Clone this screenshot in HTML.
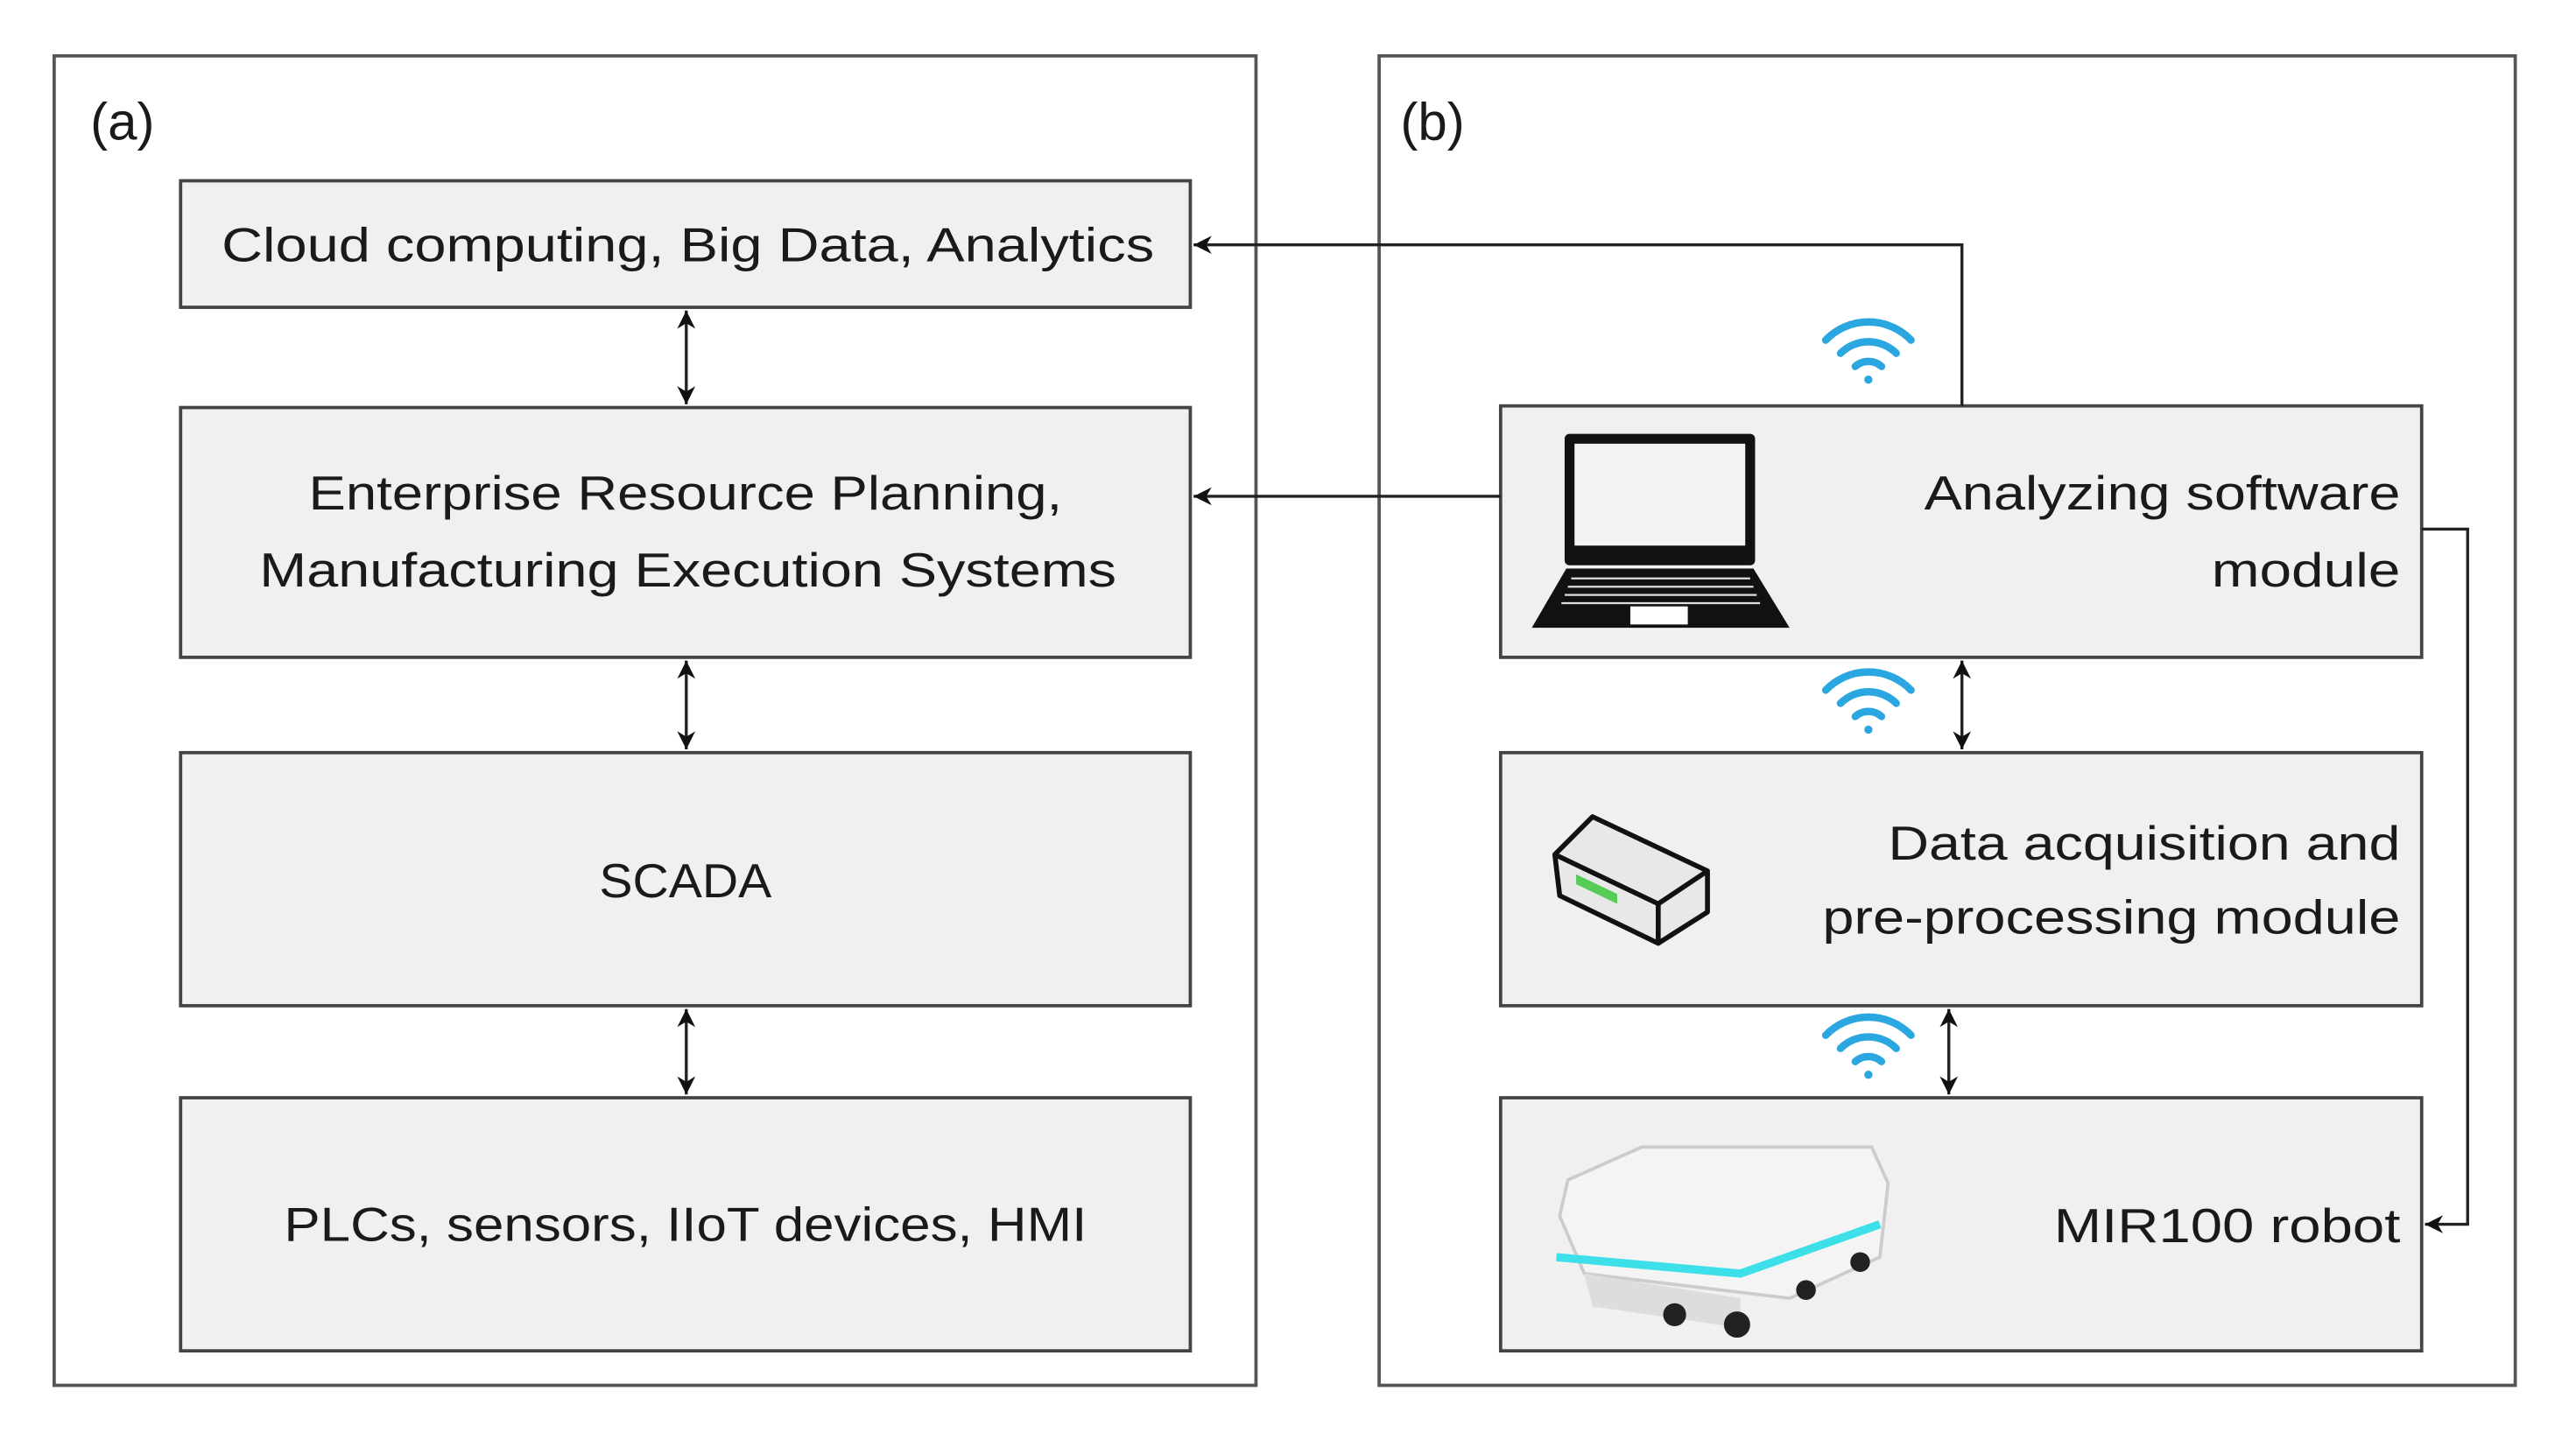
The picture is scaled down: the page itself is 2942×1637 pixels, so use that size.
<!DOCTYPE html>
<html><head><meta charset="utf-8"><style>
html,body{margin:0;padding:0;background:#fff;width:2942px;height:1637px;overflow:hidden}
svg{display:block}
text{font-family:"Liberation Sans",sans-serif;fill:#1a1a1a;font-size:29px}
</style></head><body>
<svg width="2942" height="1637" viewBox="0 0 1569 872" preserveAspectRatio="none" xmlns="http://www.w3.org/2000/svg">
<defs>
<marker id="ah" viewBox="0 0 10 10" refX="10" refY="5" markerWidth="13" markerHeight="11" markerUnits="userSpaceOnUse" orient="auto-start-reverse">
<path d="M0,0 L10,5 L0,10 L3,5 z" fill="#111"/></marker>
<g id="wifi" fill="none" stroke="#2aa6e0" stroke-width="4.5" stroke-linecap="round">
<path d="M-26,-8 A36,36 0 0 1 26,-8"/><path d="M-17,0 A24,24 0 0 1 17,0"/><path d="M-8,8 A12,12 0 0 1 8,8"/>
<circle cx="0" cy="16" r="2.5" fill="#2aa6e0" stroke="none"/></g>
</defs>
<g fill="none" stroke="#555" stroke-width="2">
<rect x="33" y="34" width="732" height="809"/>
<rect x="840" y="34" width="692" height="809"/>
</g>
<text x="55" y="85" style="font-size:32px">(a)</text>
<text x="853" y="85" style="font-size:32px">(b)</text>
<g fill="#f0f0f0" stroke="#444" stroke-width="2">
<rect x="110" y="110" width="615" height="77"/>
<rect x="110" y="248" width="615" height="152"/>
<rect x="110" y="458" width="615" height="154"/>
<rect x="110" y="668" width="615" height="154"/>
<rect x="914" y="247" width="561" height="153"/>
<rect x="914" y="458" width="561" height="154"/>
<rect x="914" y="668" width="561" height="154"/>
</g>
<text x="135" y="159" textLength="568" lengthAdjust="spacingAndGlyphs">Cloud computing, Big Data, Analytics</text>
<text x="188" y="310" textLength="459" lengthAdjust="spacingAndGlyphs">Enterprise Resource Planning,</text>
<text x="158" y="357" textLength="522" lengthAdjust="spacingAndGlyphs">Manufacturing Execution Systems</text>
<text x="365" y="546" textLength="105" lengthAdjust="spacingAndGlyphs">SCADA</text>
<text x="173" y="755" textLength="489" lengthAdjust="spacingAndGlyphs">PLCs, sensors, IIoT devices, HMI</text>
<text x="1172" y="310" textLength="290" lengthAdjust="spacingAndGlyphs">Analyzing software</text>
<text x="1347" y="357" textLength="115" lengthAdjust="spacingAndGlyphs">module</text>
<text x="1150" y="523" textLength="312" lengthAdjust="spacingAndGlyphs">Data acquisition and</text>
<text x="1110" y="568" textLength="352" lengthAdjust="spacingAndGlyphs">pre-processing module</text>
<text x="1251" y="756" textLength="211" lengthAdjust="spacingAndGlyphs">MIR100 robot</text>
<g fill="none" stroke="#222" stroke-width="1.8">
<line x1="418" y1="189" x2="418" y2="246" marker-start="url(#ah)" marker-end="url(#ah)"/>
<line x1="418" y1="402" x2="418" y2="456" marker-start="url(#ah)" marker-end="url(#ah)"/>
<line x1="418" y1="614" x2="418" y2="666" marker-start="url(#ah)" marker-end="url(#ah)"/>
<line x1="1195" y1="402" x2="1195" y2="456" marker-start="url(#ah)" marker-end="url(#ah)"/>
<line x1="1187" y1="614" x2="1187" y2="666" marker-start="url(#ah)" marker-end="url(#ah)"/>
<polyline points="1195,247 1195,149 727,149" marker-end="url(#ah)"/>
<polyline points="914,302 727,302" marker-end="url(#ah)"/>
<polyline points="1475,322 1503,322 1503,745 1477,745" marker-end="url(#ah)"/>
</g>
<use href="#wifi" x="1138" y="215"/>
<use href="#wifi" x="1138" y="428"/>
<use href="#wifi" x="1138" y="638"/>
<!-- laptop -->
<rect x="953" y="264" width="116" height="80" rx="3" fill="#111"/>
<rect x="959" y="270" width="104" height="62" fill="#f2f2f2"/>
<path d="M954,346 L1068,346 L1090,382 L933,382 Z" fill="#111"/>
<g stroke="#ddd" stroke-width="1.2">
<line x1="957" y1="352" x2="1066" y2="352"/><line x1="955" y1="357" x2="1068" y2="357"/><line x1="953" y1="362" x2="1070" y2="362"/><line x1="951" y1="367" x2="1072" y2="367"/>
</g>
<rect x="993" y="369" width="35" height="11" fill="#fff"/>
<!-- router -->
<g stroke="#111" stroke-width="3" stroke-linejoin="round">
<path d="M947,520 L970,497 L1040,530 L1040,555 L1010,574 L950,545 Z" fill="#e8e8e8"/>
<path d="M947,520 L1010,550 L1040,530" fill="none"/>
<line x1="1010" y1="550" x2="1010" y2="574"/>
</g>
<path d="M960,532 L985,544 L985,550 L960,538 Z" fill="#5c5"/>
<!-- robot -->
<path d="M955,718 L1000,698 L1140,698 L1150,720 L1145,765 L1090,790 L965,775 L950,740 Z" fill="#f4f4f4" stroke="#ccc" stroke-width="2"/>
<path d="M948,765 L1060,775 L1145,745" fill="none" stroke="#3de0e8" stroke-width="5"/>
<path d="M965,775 L1060,790 L1060,808 L970,795 Z" fill="#ddd"/>
<circle cx="1020" cy="800" r="7" fill="#222"/><circle cx="1058" cy="806" r="8" fill="#222"/><circle cx="1133" cy="768" r="6" fill="#222"/><circle cx="1100" cy="785" r="6" fill="#222"/>
</svg>
</body></html>
